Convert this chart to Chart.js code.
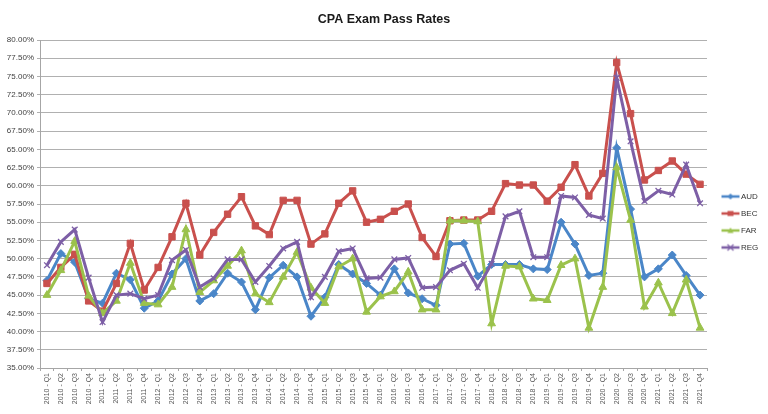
<!DOCTYPE html>
<html><head><meta charset="utf-8">
<script src="https://cdn.jsdelivr.net/npm/chart.js@4.4.0/dist/chart.umd.min.js"></script>
<style>html,body{margin:0;padding:0;background:#fff;} canvas{display:block;}</style>
</head><body>
<canvas id="c" width="768" height="414"></canvas>
<script>
const years = [2010,2011,2012,2013,2014,2015,2016,2017,2018,2019,2020,2021];
const quarters = ['Q1','Q2','Q3','Q4'];
const categories = years.flatMap(y => quarters.map(q => y + ' - ' + q));
const seriesNames = ['AUD','BEC','FAR','REG'];
const AUD = [47.0,50.7,49.5,44.5, 43.9,48.0,47.1,43.2, 44.2,47.9,50.0,44.2, 45.2,48.0,46.8,43.0, 47.4,49.1,47.5,42.1, 44.7,49.2,47.9,46.6, 45.0,48.6,45.3,44.5, 43.6,52.0,52.1,47.6, 49.2,49.2,49.2,48.6, 48.5,55.0,52.0,47.7, 48.0,65.2,56.8,47.5, 48.6,50.5,47.7,45.0];
const BEC = [46.6,48.8,50.6,44.2, 42.8,46.6,52.1,45.7, 48.8,53.0,57.6,50.5, 53.6,56.1,58.5,54.5, 53.3,58.0,58.0,52.0, 53.4,57.6,59.3,55.0, 55.4,56.5,57.5,52.9, 50.3,55.2,55.3,55.3, 56.5,60.3,60.1,60.1, 57.9,59.8,62.9,58.6, 61.7,76.9,69.9,60.8, 62.1,63.4,61.6,60.2];
const FAR = [45.0,48.4,52.4,44.9, 42.5,44.2,49.4,43.9, 43.7,46.1,54.0,45.4, 47.0,49.0,51.1,45.2, 44.0,47.5,50.9,46.0, 43.9,48.9,50.0,42.7, 44.8,45.5,48.2,43.0, 43.0,55.2,55.2,55.1, 41.1,49.0,48.9,44.5, 44.3,49.1,50.0,40.5, 46.1,62.5,55.3,43.4, 46.7,42.5,47.1,40.5];
const REG = [49.1,52.3,54.0,47.4, 41.3,45.0,45.2,44.5, 45.0,49.8,51.2,46.1, 47.3,49.9,49.9,46.8, 49.0,51.4,52.3,44.7, 47.5,51.0,51.4,47.3, 47.4,49.9,50.1,46.0, 46.1,48.4,49.3,46.0, 49.3,55.8,56.5,50.2, 50.2,58.6,58.4,56.0, 55.5,74.8,66.1,57.9, 59.3,58.8,62.9,57.6];
const yMin = 35, yMax = 80, yStep = 2.5;

const colors = ['#4A86C8','#C9504D','#9BC24C','#7D5FA6'];
const styles = ['rectRot','rect','triangle','crossRot'];
const radii = [4,4.5,4.5,4];
const values = [AUD, BEC, FAR, REG];

function legendSymbol(color, style){
  const cv = document.createElement('canvas');
  cv.width = 28; cv.height = 10;
  const g = cv.getContext('2d');
  g.strokeStyle = color; g.fillStyle = color; g.lineWidth = 2.5;
  g.beginPath(); g.moveTo(9,5); g.lineTo(27,5); g.stroke();
  const cx = 18, cy = 5, r = 3;
  g.beginPath();
  if (style === 'rectRot') { g.moveTo(cx, cy-r); g.lineTo(cx+r, cy); g.lineTo(cx, cy+r); g.lineTo(cx-r, cy); g.closePath(); g.fill(); }
  else if (style === 'rect') { g.rect(cx-r, cy-r+0.5, 2*r, 2*r-1); g.fill(); }
  else if (style === 'triangle') { g.moveTo(cx, cy-r); g.lineTo(cx+r, cy+r-0.5); g.lineTo(cx-r, cy+r-0.5); g.closePath(); g.fill(); }
  else { g.lineWidth = 1.2; g.moveTo(cx-r, cy-r); g.lineTo(cx+r, cy+r); g.moveTo(cx+r, cy-r); g.lineTo(cx-r, cy+r); g.stroke(); }
  return cv;
}
const symbols = seriesNames.map((n,i) => legendSymbol(colors[i], styles[i]));

const datasets = seriesNames.map((name, i) => ({
  label: name,
  data: values[i],
  borderColor: colors[i],
  backgroundColor: colors[i],
  borderWidth: 3,
  tension: 0,
  pointStyle: styles[i],
  pointRadius: radii[i],
  pointBorderWidth: styles[i] === 'crossRot' ? 1.3 : 1,
  pointBackgroundColor: colors[i],
  pointBorderColor: colors[i],
  order: 4 - i
}));

const fixPlugin = {
  id: 'fixLegend',
  beforeLayout(chart){
    const lg = chart.legend;
    if (lg && !lg._patched){
      const f = lg.fit;
      lg.fit = function(){ f.call(this); this.width = 61; };
      lg._patched = true;
    }
  }
};

new Chart(document.getElementById('c'), {
  type: 'line',
  data: { labels: categories, datasets },
  plugins: [fixPlugin],
  options: {
    responsive: false,
    animation: false,
    devicePixelRatio: 1,
    layout: { padding: 0 },
    plugins: {
      title: {
        display: true,
        text: 'CPA Exam Pass Rates',
        color: '#1a1a1a',
        font: { family: 'Liberation Sans', size: 12.5, weight: 'bold', lineHeight: 1.2 },
        padding: { top: 12, bottom: 13 }
      },
      legend: {
        position: 'right',
        align: 'center',
        maxWidth: 61,
        title: { display: true, text: '', font: { size: 8, lineHeight: 1.2 }, padding: { top: 10, bottom: 10.4 } },
        labels: {
          usePointStyle: true,
          pointStyleWidth: 21,
          padding: 9,
          color: '#333333',
          font: { family: 'Liberation Sans', size: 8 },
          generateLabels(chart){
            return seriesNames.map((n, i) => ({
              text: n,
              pointStyle: symbols[i],
              fillStyle: colors[i],
              strokeStyle: colors[i],
              lineWidth: 0,
              hidden: false,
              datasetIndex: i,
              fontColor: '#333333'
            }));
          }
        }
      },
      tooltip: { enabled: false }
    },
    scales: {
      x: {
        type: 'category',
        offset: true,
        afterFit(scale){ scale.height = 46; },
        grid: { display: true, drawOnChartArea: false, drawTicks: true, tickLength: 3, offset: true, color: '#a6a6a6' },
        border: { display: true, color: '#a6a6a6', width: 1 },
        ticks: {
          autoSkip: false,
          maxRotation: 90,
          minRotation: 90,
          padding: 2,
          color: '#595959',
          font: { family: 'Liberation Sans', size: 7 }
        }
      },
      y: {
        min: yMin,
        max: yMax,
        afterFit(scale){ scale.width = 40; },
        grid: { color: '#b0b0b0', lineWidth: 1, tickLength: 3, drawTicks: true },
        border: { display: true, color: '#a6a6a6', width: 1 },
        ticks: {
          stepSize: yStep,
          padding: 3,
          color: '#404040',
          font: { family: 'Liberation Sans', size: 8 },
          callback: v => Number(v).toFixed(2) + '%'
        }
      }
    }
  }
});
</script>
</body></html>
